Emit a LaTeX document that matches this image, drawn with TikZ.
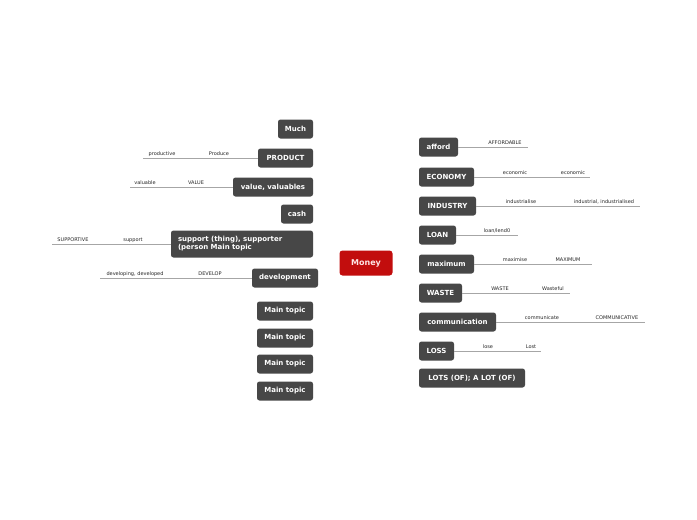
\documentclass[tikz,border=0pt]{standalone}
\usepackage{fontspec}
\setmainfont{DejaVu Sans}
\usetikzlibrary{backgrounds}
\tikzset{
 topic/.style={fill=black!72,text=white,rounded corners=2.5pt,font=\fontsize{7}{8}\selectfont\bfseries,inner sep=0pt,minimum height=19pt,drop shadow/.try},
 ctr/.style={fill=red!75!black!95,text=white!90!red,rounded corners=3pt,font=\fontsize{8}{9}\selectfont\bfseries,inner sep=0pt,minimum height=25pt,minimum width=53pt},
 conn/.style={draw=black!30,line width=1pt},
 sub/.style={draw=black!35,line width=0.6pt},
 lab/.style={font=\fontsize{5}{6}\selectfont,text=black!85,inner sep=0pt,anchor=base}
}
\newcommand{\tnode}[5]{\node[topic,minimum width=#3pt-#2pt] (#1) at ({(#2+#3)/2},#4) {#5};}
\begin{document}
\begin{tikzpicture}[x=1pt,y=-1pt]
\useasboundingbox[fill=white] (0,0) rectangle (697,520);
\node[ctr] (m) at (366,263) {Money};
\tnode{r1}{419}{458}{147}{afford}
\tnode{r2}{419}{474}{177}{ECONOMY}
\tnode{r3}{419}{476}{206}{INDUSTRY}
\tnode{r4}{419}{456}{235}{LOAN}
\tnode{r5}{419}{474}{264}{maximum}
\tnode{r6}{419}{462}{293}{WASTE}
\tnode{r7}{419}{496}{322}{communication}
\tnode{r8}{419}{454}{351}{LOSS}
\tnode{r9}{419}{525}{378}{LOTS (OF); A LOT (OF)}
\tnode{l1}{278}{313}{129}{Much}
\tnode{l2}{258}{313}{158}{PRODUCT}
\tnode{l3}{233}{313}{187}{value, valuables}
\tnode{l4}{281}{313}{214}{cash}
\node[topic,minimum width=142pt,minimum height=27pt,align=left,text width=128pt] (l5) at (242,244) {support (thing), supporter\\(person Main topic};
\tnode{l6}{252}{318}{278}{development}
\tnode{l7}{257}{313}{311}{Main topic}
\tnode{l8}{257}{313}{338}{Main topic}
\tnode{l9}{257}{313}{364}{Main topic}
\tnode{l10}{257}{313}{391}{Main topic}
\begin{scope}[on background layer]
\foreach \n/\y in {r1/147,r2/177,r3/206,r4/235,r5/264,r6/293,r7/322,r8/351,r9/378}
  \draw[conn] (m.center) .. controls (396,\y) .. (\n.west);
\foreach \n/\y in {l1/129,l2/158,l3/187,l4/214,l5/244,l7/311,l8/338,l9/364,l10/391}
  \draw[conn] (m.center) .. controls (338,\y) .. (\n.east);
\draw[conn] (m.center) .. controls (345,278) .. (l6.east);
\end{scope}
% sub lines
\coordinate (e1) at (528,147); \draw[sub] (r1.east) -- (e1); \node[lab] at (505,144) {AFFORDABLE};
\coordinate (e2) at (590,177); \draw[sub] (r2.east) -- (e2); \node[lab] at (515,174) {economic}; \node[lab] at (573,174) {economic};
\coordinate (e3) at (640,206); \draw[sub] (r3.east) -- (e3); \node[lab] at (521,203) {industrialise}; \node[lab] at (604,203) {industrial, industrialised};
\coordinate (e4) at (518,235); \draw[sub] (r4.east) -- (e4); \node[lab] at (497,232) {loan/lend0};
\coordinate (e5) at (592,264); \draw[sub] (r5.east) -- (e5); \node[lab] at (515,261) {maximise}; \node[lab] at (568,261) {MAXIMUM};
\coordinate (e6) at (570,293); \draw[sub] (r6.east) -- (e6); \node[lab] at (500,290) {WASTE}; \node[lab] at (553,290) {Wasteful};
\coordinate (e7) at (645,322); \draw[sub] (r7.east) -- (e7); \node[lab] at (542,319) {communicate}; \node[lab] at (617,319) {COMMUNICATIVE};
\coordinate (e8) at (541,351); \draw[sub] (r8.east) -- (e8); \node[lab] at (488,348) {lose}; \node[lab] at (531,348) {Lost};
\coordinate (f2) at (143,158); \draw[sub] (l2.west) -- (f2); \node[lab] at (162,155) {productive}; \node[lab] at (219,155) {Produce};
\coordinate (f3) at (130,187); \draw[sub] (l3.west) -- (f3); \node[lab] at (145,184) {valuable}; \node[lab] at (196,184) {VALUE};
\coordinate (f5) at (52,244); \draw[sub] (l5.west) -- (f5); \node[lab] at (73,241) {SUPPORTIVE}; \node[lab] at (133,241) {support};
\coordinate (f6) at (100,278); \draw[sub] (l6.west) -- (f6); \node[lab] at (135,275) {developing, developed}; \node[lab] at (210,275) {DEVELOP};
\end{tikzpicture}
\end{document}
